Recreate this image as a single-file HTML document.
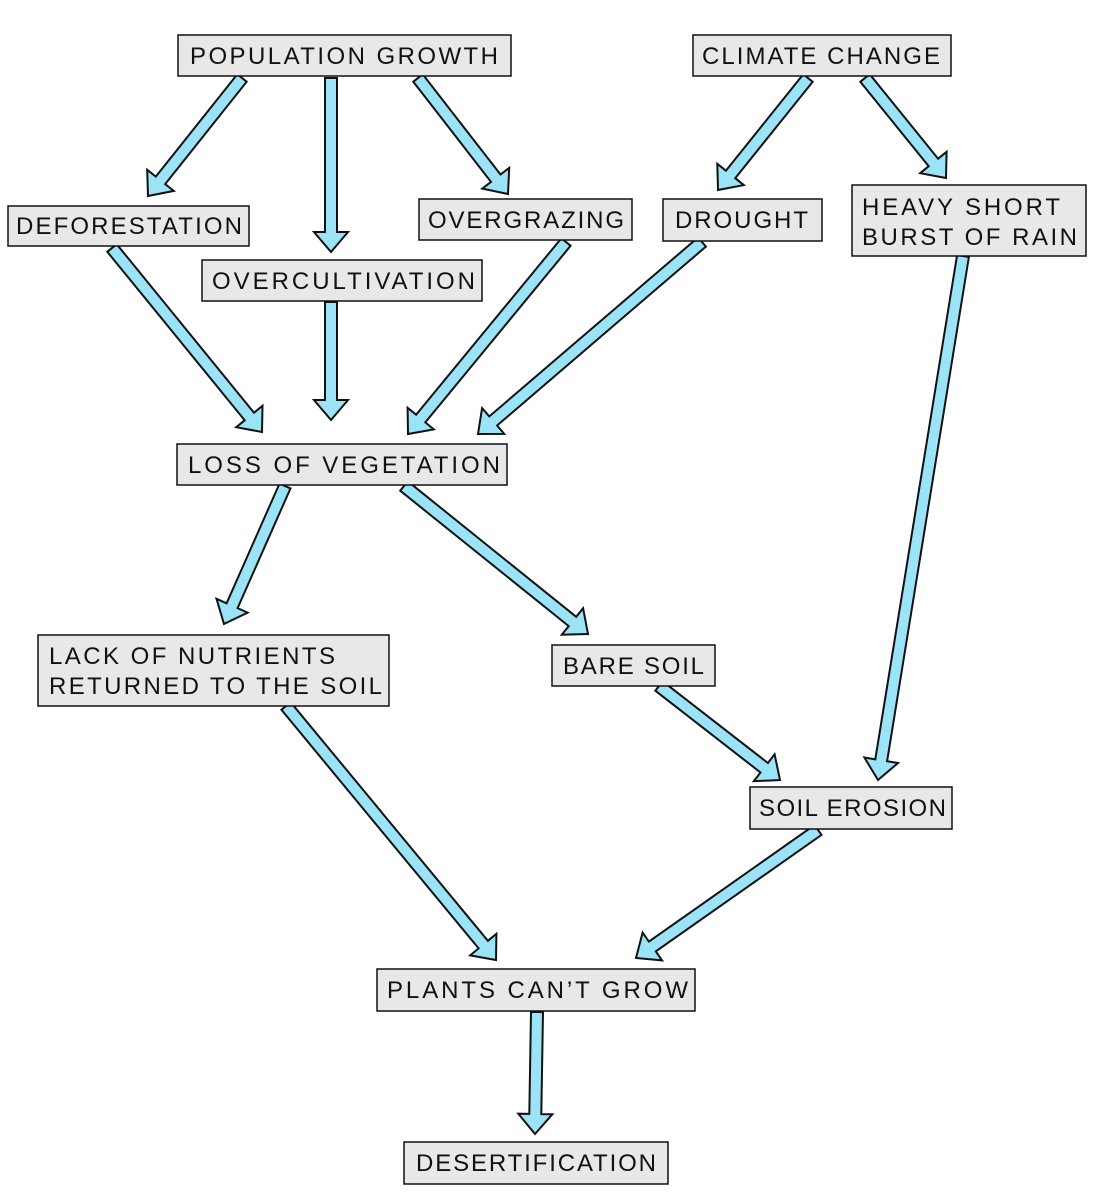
<!DOCTYPE html>
<html><head><meta charset="utf-8">
<style>
html,body{margin:0;padding:0;background:#fff;}
svg{display:block;}
.b{fill:#e8e8e8;stroke:#111;stroke-width:1.5;}
text{font-family:"Liberation Sans",sans-serif;font-size:24px;fill:#111;}
.a{fill:#9be3f7;stroke:#111;stroke-width:2;stroke-linejoin:miter;}
</style></head><body>
<svg id="s" width="1100" height="1200" viewBox="0 0 1100 1200" xmlns="http://www.w3.org/2000/svg">
<g id="arrows"></g>
<rect class="b" x="178" y="35" width="333" height="41"/><text x="190" y="64" textLength="308" lengthAdjust="spacing">POPULATION GROWTH</text>
<rect class="b" x="693" y="35" width="258" height="41"/><text x="702" y="64" textLength="238" lengthAdjust="spacing">CLIMATE CHANGE</text>
<rect class="b" x="8" y="206" width="241" height="40"/><text x="16" y="234" textLength="226" lengthAdjust="spacing">DEFORESTATION</text>
<rect class="b" x="202" y="260" width="280" height="41"/><text x="212" y="289" textLength="263" lengthAdjust="spacing">OVERCULTIVATION</text>
<rect class="b" x="419" y="199" width="213" height="41"/><text x="428" y="228" textLength="196" lengthAdjust="spacing">OVERGRAZING</text>
<rect class="b" x="663" y="199" width="159" height="42"/><text x="675" y="228" textLength="133" lengthAdjust="spacing">DROUGHT</text>
<rect class="b" x="852" y="185" width="234" height="71"/><text x="862" y="215" textLength="198" lengthAdjust="spacing">HEAVY SHORT</text><text x="862" y="245" textLength="215" lengthAdjust="spacing">BURST OF RAIN</text>
<rect class="b" x="177" y="444" width="330" height="41"/><text x="188" y="473" textLength="312" lengthAdjust="spacing">LOSS OF VEGETATION</text>
<rect class="b" x="38" y="635" width="351" height="71"/><text x="49" y="664" textLength="286" lengthAdjust="spacing">LACK OF NUTRIENTS</text><text x="49" y="694" textLength="333" lengthAdjust="spacing">RETURNED TO THE SOIL</text>
<rect class="b" x="552" y="645" width="163" height="41"/><text x="563" y="674" textLength="141" lengthAdjust="spacing">BARE SOIL</text>
<rect class="b" x="750" y="787" width="202" height="42"/><text x="759" y="816" textLength="187" lengthAdjust="spacing">SOIL EROSION</text>
<rect class="b" x="377" y="969" width="318" height="42"/><text x="387" y="998" textLength="301" lengthAdjust="spacing">PLANTS CAN’T GROW</text>
<rect class="b" x="404" y="1142" width="264" height="42"/><text x="416" y="1171" textLength="240" lengthAdjust="spacing">DESERTIFICATION</text>
</svg>
<script>
var A=[[242,78,148,196],[331,78,331,252],[418,78,508,194],[808,78,718,190],[865,78,946,178],
[112,248,262,432],[331,302,331,420],[566,242,408,434],[702,242,478,434],[963,256,878,780],
[285,486,224,624],[404,486,588,634],[659,686,780,780],[286,706,496,960],[818,830,636,958],[537,1012,535,1134]];
var g=document.getElementById('arrows'),h='';
A.forEach(function(a){
 var x1=a[0],y1=a[1],x2=a[2],y2=a[3],dx=x2-x1,dy=y2-y1,L=Math.sqrt(dx*dx+dy*dy),ux=dx/L,uy=dy/L,px=-uy,py=ux;
 var sw=6,hw=17,hl=20,bx=x2-ux*hl,by=y2-uy*hl;
 var p=[[x1+px*sw,y1+py*sw],[bx+px*sw,by+py*sw],[bx+px*hw,by+py*hw],[x2,y2],[bx-px*hw,by-py*hw],[bx-px*sw,by-py*sw],[x1-px*sw,y1-py*sw]];
 h+='<polygon class="a" points="'+p.map(function(q){return q[0].toFixed(1)+','+q[1].toFixed(1)}).join(' ')+'"/>';
});
g.innerHTML=h;
</script>
</body></html>
